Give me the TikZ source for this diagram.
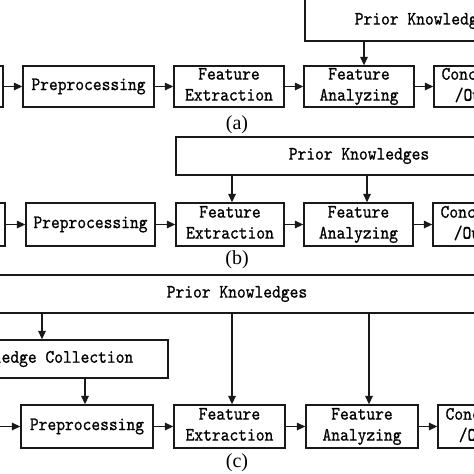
\documentclass[tikz,border=0pt]{standalone}
\usepackage{fontspec}
\newfontfamily\mono[FakeStretch=0.88,FakeBold=0.8]{lmmono10-regular.otf}
\newfontfamily\labfont{Liberation Serif}
\usetikzlibrary{arrows.meta}
\tikzset{
  blk/.style={draw=black!90, line width=1.3pt, inner sep=0pt, align=center,
    font=\mono\fontsize{19}{21}\selectfont},
  arr/.style={draw=black!90, line width=1.3pt, -{Triangle[length=8.5pt,width=7.5pt]}},
  sublabel/.style={font=\labfont\fontsize{20}{22}\selectfont, inner sep=0pt}
}
\newcommand{\bx}[6]{\node[blk, minimum width=#4pt, minimum height=#5pt] (#1) at (#2,#3) {#6};}
\begin{document}
\begin{tikzpicture}[x=1pt,y=-1pt]
\useasboundingbox (0,0) rectangle (474,474);
\clip (0,0) rectangle (474,474);
\fill[white] (0,0) rectangle (474,474);
% ---------- (a)
\bx{La}{-52}{86.5}{110}{41}{}
\bx{Pa}{88.5}{86.5}{131}{41}{Preprocessing}
\bx{FEa}{229}{86.5}{110}{41}{Feature\\Extraction\vphantom{y}}
\bx{FAa}{359}{86.5}{110}{41}{Feature\\Analyzing}
\bx{Ca}{485.5}{86.5}{103}{41}{Conclusion\\/Output\vphantom{y}}
\bx{PKa}{425}{18}{240}{46}{}
\node[blk, draw=none] (PKat) at (425,21) {Prior Knowledges};
\coordinate (xa) at (364,0);
\draw[arr] (La) -- (Pa);
\draw[arr] (Pa) -- (FEa);
\draw[arr] (FEa) -- (FAa);
\draw[arr] (FAa) -- (Ca);
\draw[arr] (PKa.south -| xa) -- (FAa.north -| xa);
\node[sublabel] (la) at (237,125) {(a)};
% ---------- (b)
\bx{Lb}{-50}{224.5}{110}{43}{}
\bx{Pb}{90.5}{224.5}{129}{43}{Preprocessing}
\bx{FEb}{230}{224.5}{108}{43}{Feature\\Extraction\vphantom{y}}
\bx{FAb}{358.5}{224.5}{109}{43}{Feature\\Analyzing}
\bx{Cb}{484.5}{224.5}{103}{43}{Conclusion\\/Output\vphantom{y}}
\bx{PKb}{359}{156}{366}{38}{Prior Knowledges}
\coordinate (xb1) at (232,0);
\coordinate (xb2) at (367,0);
\draw[arr] (Lb) -- (Pb);
\draw[arr] (Pb) -- (FEb);
\draw[arr] (FEb) -- (FAb);
\draw[arr] (FAb) -- (Cb);
\draw[arr] (PKb.south -| xb1) -- (FEb.north -| xb1);
\draw[arr] (PKb.south -| xb2) -- (FAb.north -| xb2);
\node[sublabel] (lb) at (237,260) {(b)};
% ---------- (c)
\bx{Lc}{-56}{426.5}{110}{43}{}
\bx{Pc}{87}{426.5}{132}{43}{Preprocessing}
\bx{FEc}{229.5}{426.5}{111}{43}{Feature\\Extraction\vphantom{y}}
\bx{FAc}{362}{426.5}{112}{43}{Feature\\Analyzing}
\bx{Cc}{489.5}{426.5}{103}{43}{Conclusion\\/Output\vphantom{y}}
\bx{PKc}{237}{294}{634}{38}{Prior Knowledges}
\bx{KC}{45.5}{359}{245}{38}{Knowledge Collection}
\coordinate (xc1) at (42,0);
\coordinate (xc2) at (85,0);
\coordinate (xc3) at (232,0);
\coordinate (xc4) at (369,0);
\draw[arr] (Lc) -- (Pc);
\draw[arr] (Pc) -- (FEc);
\draw[arr] (FEc) -- (FAc);
\draw[arr] (FAc) -- (Cc);
\draw[arr] (PKc.south -| xc1) -- (KC.north -| xc1);
\draw[arr] (KC.south -| xc2) -- (Pc.north -| xc2);
\draw[arr] (PKc.south -| xc3) -- (FEc.north -| xc3);
\draw[arr] (PKc.south -| xc4) -- (FAc.north -| xc4);
\node[sublabel] (lc) at (237,463) {(c)};
\end{tikzpicture}
\end{document}
